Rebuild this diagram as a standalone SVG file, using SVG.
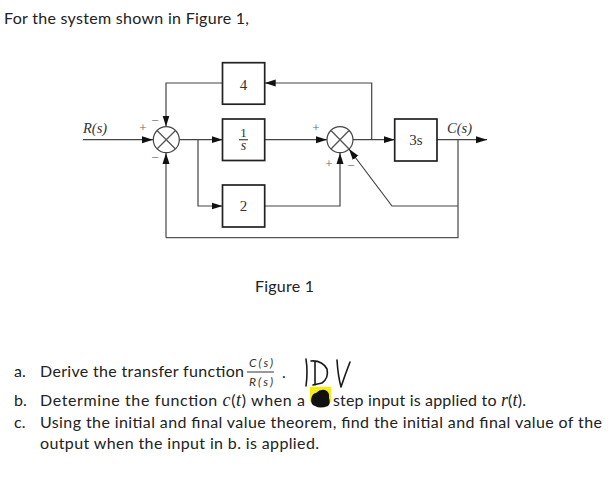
<svg xmlns="http://www.w3.org/2000/svg" width="615" height="484" viewBox="0 0 615 484">
<defs>
<marker id="a" markerWidth="12" markerHeight="8" refX="11" refY="4" orient="auto" markerUnits="userSpaceOnUse"><path d="M0 0.5L11 4L0 7.5Z" fill="#111"/></marker>
</defs>
<style>
.b{fill:#fff;stroke:#222;stroke-width:1.7}
.c{fill:none;stroke:#555;stroke-width:1.3}
.m{fill:none;stroke:#444;stroke-width:1.2;marker-end:url(#a)}
.s{fill:#fff;stroke:#444;stroke-width:1.2}
.t{font-family:"Liberation Serif",serif;fill:#333}
.i{font-style:italic}
.w{font-family:Lato,"Open Sans",sans-serif;font-size:16px;fill:#222}
.f{font-family:Lato,"Open Sans",sans-serif;font-size:12px;font-style:italic;fill:#333}
.g{font-family:"Liberation Serif",serif;font-size:13px;fill:#666;text-anchor:middle}
.h{fill:none;stroke:#1a1a1a;stroke-width:1.6;stroke-linecap:round;stroke-linejoin:round}
.e{font-family:"Liberation Serif",serif;font-style:italic;font-size:18px}
</style>
<rect width="615" height="484" fill="#fff"/>
<text class="w" x="4" y="24" textLength="245">For the system shown in Figure 1,</text>
<g id="connectors">
<path class="m" d="M83 139.7H153"/>
<path class="m" d="M179 139.7H222.5"/>
<path class="m" d="M198 139.7V206H222.5"/>
<path class="m" d="M222.5 83H166V126.5"/>
<path class="m" d="M264.7 139.7H327"/>
<path class="m" d="M264.7 206H340V153"/>
<path class="m" d="M353 139.7H394.7"/>
<path class="m" d="M371.7 139.7V83H264.7"/>
<path class="m" d="M437 139.7H487"/>
<path class="c" d="M458 139.7V237.7H166"/>
<path class="m" d="M166 237.7V153"/>
<path class="m" d="M458 206H392L349 149"/>
</g>
<g id="sum1"><circle class="s" cx="166.3" cy="139.7" r="13"/><path class="c" d="M157 130.5L175.5 149M175.5 130.5L157 149"/></g>
<g id="sum2"><circle class="s" cx="340" cy="139.7" r="13"/><path class="c" d="M331 130.5L349 149M349 130.5L331 149"/></g>
<g id="box4"><rect class="b" x="222.5" y="62.7" width="42.2" height="41.5"/><text class="t" x="243.5" y="90" font-size="15" text-anchor="middle">4</text></g>
<g id="box1s"><rect class="b" x="222.5" y="119" width="42.2" height="41.5"/><text class="t" x="243.5" y="136.5" font-size="13" text-anchor="middle">1</text><path class="c" d="M239 139.7H248"/><text class="t i" x="243.5" y="150" font-size="14" text-anchor="middle">s</text></g>
<g id="box2"><rect class="b" x="222.5" y="185" width="42.2" height="42"/><text class="t" x="243.5" y="211" font-size="15" text-anchor="middle">2</text></g>
<g id="box3s"><rect class="b" x="394.7" y="119" width="42.3" height="42"/><text class="t" x="416" y="145" font-size="15" text-anchor="middle">3s</text></g>
<text class="t i" x="83" y="133" font-size="14.5">R(s)</text>
<text class="t i" x="447" y="133" font-size="14.5">C(s)</text>
<text class="g" x="143" y="132">+</text><text class="g" x="155" y="125">−</text><text class="g" x="155" y="162">−</text>
<text class="g" x="316" y="132">+</text><text class="g" x="329" y="168">+</text><text class="g" x="351" y="170">−</text>
<text class="w" x="255" y="292" textLength="59">Figure 1</text>
<text class="w" x="14" y="377">a.</text>
<text class="w" x="40" y="377" textLength="204">Derive the transfer function</text>
<text class="f" x="249" y="367" textLength="24">C(s)</text>
<path d="M247 372H274" stroke="#333" stroke-width="1"/>
<text class="f" x="249" y="386" textLength="24">R(s)</text>
<text class="w" x="282" y="378">.</text>
<path class="h" d="M306 359Q308 372 306 386M311 361Q322 360 327 369Q329 378 322 383L313 385M315 362L315 385M337 360Q338 376 341 387Q345 375 350 362"/>
<text class="w" x="14" y="406">b.</text>
<text class="w" x="40" y="406" textLength="265">Determine the function <tspan class="e">c</tspan>(<tspan class="e">t</tspan>) when a</text>
<rect x="310" y="387" width="21" height="15" fill="#f5ee10"/>
<path d="M311 400Q312 393 316 393Q320 389 325 390Q330 392 329 398Q331 403 328 406Q320 409 315 406Q311 405 311 400Z" fill="#111"/>
<text class="w" x="333" y="406" textLength="193">step input is applied to <tspan class="e">r</tspan>(<tspan class="e">t</tspan>).</text>
<text class="w" x="14" y="428">c.</text>
<text class="w" x="40" y="428" textLength="562">Using the initial and final value theorem, find the initial and final value of the</text>
<text class="w" x="40" y="449" textLength="279">output when the input in b. is applied.</text>
</svg>
